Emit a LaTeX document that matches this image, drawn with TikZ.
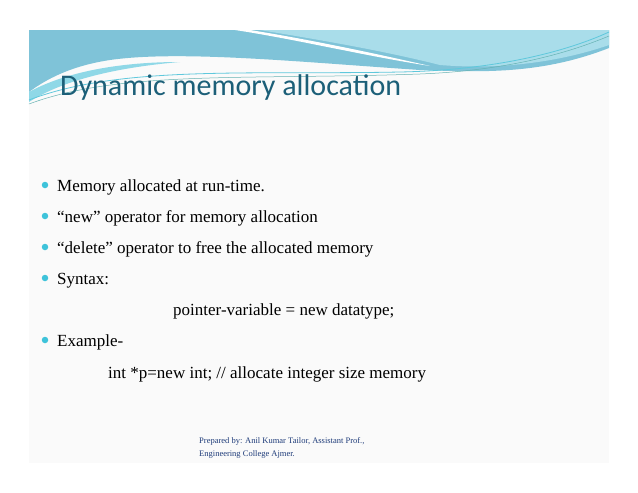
\documentclass[tikz,border=0pt]{standalone}
\usepackage{fontspec}
\setmainfont{Liberation Serif}
\newfontfamily\titlefont{Carlito}
\definecolor{titlec}{HTML}{1C5F78}
\definecolor{bulc}{HTML}{3EC3DA}
\definecolor{bandA}{HTML}{7FC3D8}
\definecolor{bandB}{HTML}{A9DDEA}
\definecolor{bandC}{HTML}{5FC8DC}
\definecolor{footc}{HTML}{1F3C7A}
\tikzset{
  body/.style={anchor=base west,font=\fontsize{17}{20}\selectfont,inner sep=0pt},
  bul/.style={circle,fill=bulc,inner sep=0pt,minimum size=6.5pt},
  foot/.style={anchor=base west,font=\fontsize{8.5}{10}\selectfont,text=footc,inner sep=0pt}
}
\begin{document}
\begin{tikzpicture}[x=1pt,y=-1pt]
\useasboundingbox (0,0) rectangle (638,493);
\fill[white] (0,0) rectangle (638,493);
\fill[gray!4] (29,30) rectangle (609,463);
% header band
\fill[bandA] (29,30) -- (609,30) -- (609,48) .. controls (540,75) and (480,72) .. (420,70)
  .. controls (300,62) and (180,50) .. (110,60) .. controls (70,66) and (45,80) .. (29,92) -- cycle;
\fill[bandB] (260,30) -- (609,30) -- (609,45) .. controls (560,62) and (500,70) .. (440,65)
  .. controls (380,50) and (320,40) .. (260,30) -- cycle;
\fill[white] (235,30) .. controls (300,40) and (360,55) .. (430,66) .. controls (360,50) and (300,38) .. (250,30) -- cycle;
\fill[bandC!70] (29,92) .. controls (60,75) and (110,62) .. (180,62) .. controls (110,68) and (60,82) .. (29,102) -- cycle;
\draw[bandC,line width=0.8pt] (29,100) .. controls (120,65) and (250,75) .. (400,72) .. controls (500,70) and (570,50) .. (609,32);
\draw[teal!60,line width=0.5pt] (29,104) .. controls (120,70) and (250,80) .. (420,74) .. controls (520,70) and (580,48) .. (609,36);
\node[anchor=base west,inner sep=0pt,text=titlec,font=\titlefont\fontsize{30}{34}\selectfont] (title) at (60,95) {Dynamic memory allocation};
% bullets
\node[bul] (b1) at (45,185) {};
\node[body] (t1) at (57,191) {Memory allocated at run-time.};
\node[bul] (b2) at (45,216) {};
\node[body] (t2) at (57,222) {“new” operator for memory allocation};
\node[bul] (b3) at (45,247) {};
\node[body] (t3) at (57,253) {“delete” operator to free the allocated memory};
\node[bul] (b4) at (45,278) {};
\node[body] (t4) at (57,284) {Syntax:};
\node[body] (t5) at (173,315) {pointer-variable = new datatype;};
\node[bul] (b6) at (45,340) {};
\node[body] (t6) at (57,346) {Example-};
\node[body] (t7) at (108,378) {int *p=new int; // allocate integer size memory};
\node[foot] (f1) at (199,443) {Prepared by: Anil Kumar Tailor, Assistant Prof.,};
\node[foot] (f2) at (199,456) {Engineering College Ajmer.};
\end{tikzpicture}
\end{document}
